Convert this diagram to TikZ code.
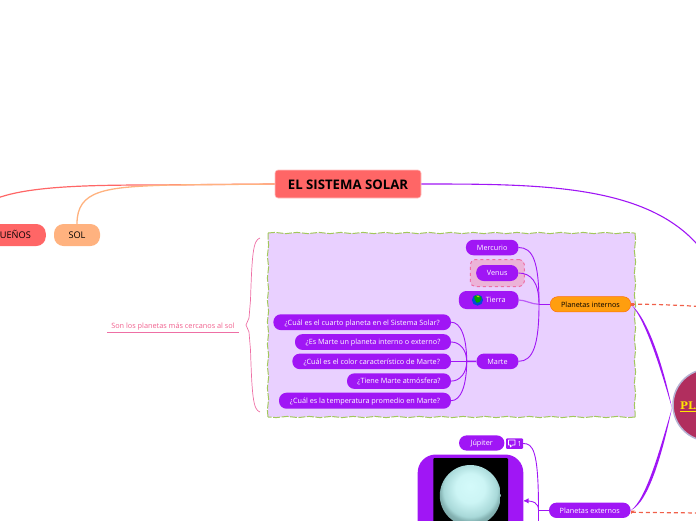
\documentclass[tikz,border=0pt]{standalone}
\usepackage{fontspec}
\setmainfont{Open Sans}
\newfontfamily\slabfont{DejaVu Serif}
\usetikzlibrary{decorations.pathmorphing}
\definecolor{rootc}{HTML}{FF6666}
\definecolor{solc}{HTML}{FFB27F}
\definecolor{purp}{HTML}{A016F5}
\definecolor{panel}{HTML}{E9D0FF}
\definecolor{orangec}{HTML}{FF9E0F}
\definecolor{pinkc}{HTML}{EE6FA5}
\definecolor{venusbg}{HTML}{ECB3D8}
\definecolor{greenb}{HTML}{A2C75C}
\definecolor{redd}{HTML}{F0604A}
\definecolor{planetc}{HTML}{B12E5E}
\definecolor{planetb}{HTML}{B6B4D4}
\pgfdeclareradialshading{uran}{\pgfpoint{0bp}{8bp}}{rgb(0bp)=(.83,.98,.98); rgb(12bp)=(.80,.96,.96); rgb(22bp)=(.66,.85,.85); rgb(25bp)=(.52,.70,.70); rgb(50bp)=(.3,.4,.4)}
\tikzset{
  pill/.style={rounded corners=7.5pt,fill=purp,text=white,font=\fontsize{7.25}{8}\selectfont,inner sep=0pt,anchor=center,text height=6.6pt,text depth=1pt},
  lnk/.style={purp,line width=.9pt},
  hublink/.style={purp,line width=1.4pt},
  big/.style={rounded corners=9.5pt,text=black,font=\fontsize{9.2}{10}\selectfont,inner sep=0pt,text height=8pt,text depth=1pt},
  greenedge/.style={greenb,line width=1pt,dash pattern=on 7pt off 1.5pt,decorate,decoration={snake,amplitude=.6pt,segment length=22pt}},
  reddash/.style={redd,line width=1.2pt,dash pattern=on 4pt off 3pt},
}
\newcommand{\pillnode}[5]{\node[pill,minimum width=#3pt,minimum height=#4pt] (#1) at (#2) {#5};}
\begin{document}
\begin{tikzpicture}[x=1pt,y=-1pt]
\useasboundingbox (0,0) rectangle (696,520);
\clip (0,0) rectangle (696,520);
% panel
\coordinate (pnw) at (268,233);
\coordinate (pne) at (635,233);
\coordinate (pse) at (635,417);
\coordinate (psw) at (268,417);
\fill[panel] (pnw) -- (pne) -- (pse) -- (psw) -- cycle;
\draw[greenedge] (pnw) -- (pne);
\draw[greenedge] (pne) -- (pse);
\draw[greenedge] (pse) -- (psw);
\draw[greenedge] (psw) -- (pnw);
% venus highlight
\node[draw=pinkc,dashed,fill=venusbg,line width=1pt,rounded corners=5pt,minimum width=54pt,minimum height=27pt,inner sep=0pt] (venusbox) at (497.3,273) {};
% root
\node[rounded corners=3pt,fill=rootc,draw=rootc!40,line width=.6pt,minimum width=146pt,minimum height=28pt,inner sep=0pt,text height=10pt,text depth=0pt,font=\bfseries\fontsize{13.2}{15}\selectfont] (root) at (348,184) {EL SISTEMA SOLAR};
\node[big,fill=solc,minimum width=46pt,minimum height=22pt] (sol) at (77,235) {SOL};
\node[big,fill=rootc,minimum height=22pt,inner xsep=15pt,anchor=east] (peq) at (46,235) {PEQUEÑOS};
% planet
\node[circle,fill=planetc,draw=planetb,line width=1.5pt,minimum size=72pt,inner sep=0pt] (planet) at (709,405) {};
\node[text=yellow!90!orange,font=\slabfont\bfseries\fontsize{10.5}{11}\selectfont,anchor=west,inner sep=0pt] (ptext) at (680,407) {\underline{PLANETAS}};
% small nodes
\pillnode{mercurio}{492.2,247.5}{52.6}{15.5}{Mercurio}
\pillnode{venus}{497.2,273}{42}{16}{Venus}
\pillnode{tierra}{488.7,300}{59.6}{18}{\hspace{14pt}Tierra}
\pillnode{marte}{497.5,361.3}{42}{15.5}{Marte}
\node[pill,fill=orangec,text=black,draw=orangec!70!red,line width=.5pt,minimum width=80.5pt,minimum height=15.3pt] (internos) at (590.5,304.3) {Planetas internos};
\node[pill,minimum width=81.6pt,minimum height=15.3pt] (externos) at (589.8,510.3) {Planetas externos};
\pillnode{q1}{362.2,322.2}{177.6}{15.8}{¿Cuál es el cuarto planeta en el Sistema Solar?}
\pillnode{q2}{373,342}{156}{15.8}{¿Es Marte un planeta interno o externo?}
\pillnode{q3}{371.7,361.4}{158.7}{15.6}{¿Cuál es el color característico de Marte?}
\pillnode{q4}{399,381.1}{104}{15.6}{¿Tiene Marte atmósfera?}
\pillnode{q5}{365,400.7}{172}{16}{¿Cuál es la temperatura promedio en Marte?}
\pillnode{jupiter}{481.7,443}{45.3}{15.2}{Júpiter}
% comment badge
\node[rounded corners=1pt,fill=purp,text=white,minimum width=17pt,minimum height=10.5pt,inner sep=0pt,font=\fontsize{7}{7}\selectfont] (badge) at (514.5,443.5) {\hspace{10pt}1};
\draw[white,line width=.6pt,line join=round] (508.5,440) -- (515,440) -- (515,445) -- (512.5,445) -- (510.5,447) -- (510.5,445) -- (508.5,445) -- cycle;
% earth icon
\fill[blue!65!cyan!85!black] (477.5,300) circle (5.6pt);
\fill[green!65!black] (474.5,296) .. controls (478,294.5) and (482,296) .. (481.5,299) .. controls (480,303) and (476,304) .. (475.5,301) .. controls (475,299) and (473.5,298) .. (474.5,296) -- cycle;
\fill[yellow!70!orange,opacity=.8] (476,295.5) .. controls (478,295) and (480,296) .. (479.5,297) .. controls (478,297.5) and (477,297) .. (476,295.5) -- cycle;
% uranus image
\node[rounded corners=18pt,fill=purp,minimum width=105.6pt,minimum height=110pt,inner sep=0pt] (uranus) at (470.5,509.5) {};
\node[fill=black,minimum width=74.6pt,minimum height=90pt,inner sep=0pt,rounded corners=1pt] (photo) at (470.7,503) {};
\shade[shading=uran] (470.3,495.5) circle (30.5pt);
% connectors inside panel
\coordinate (ji) at (539,304.3);
\draw[lnk] (mercurio.east) .. controls (533,247.5) and (539,262) .. (ji);
\draw[lnk] (venus.east) .. controls (531,273) and (539,282) .. (ji);
\draw[purp!70!white,line width=1.2pt] (tierra.east) .. controls (525,300) and (532,304.3) .. (ji);
\draw[lnk] (marte.east) .. controls (533,361.3) and (539,345) .. (ji);
\draw[hublink] (ji) -- (internos.west);
\coordinate (jm) at (466.7,361.4);
\draw[lnk] (q1.east) .. controls (461,322.2) and (466.7,338) .. (jm);
\draw[lnk] (q2.east) .. controls (460,342) and (466.7,350) .. (jm);
\draw[lnk] (q3.east) -- (jm);
\draw[lnk] (q4.east) .. controls (460,381) and (466.7,373) .. (jm);
\draw[lnk] (q5.east) .. controls (461,400.7) and (466.7,385) .. (jm);
\draw[hublink] (jm) -- (marte.west);
% root links
\draw[rootc,line width=1.2pt] (root.west) -- (150,185) .. controls (80,185) and (25,187) .. (-5,199);
\draw[solc,line width=1.3pt] (root.west) -- (170,185) .. controls (105,187) and (77,190) .. (sol.north);
\draw[purp,line width=1.1pt] (root.east) .. controls (540,184) and (650,184) .. (702,250);
% tapered links to the planet
\coordinate (apex) at (672,408);
\fill[purp] (internos.east) .. controls (648,319) and (663,365) .. (apex) .. controls (660,367) and (646,321) .. (internos.east) -- cycle;
\fill[purp] (externos.east) .. controls (649,502) and (663,451) .. (apex) .. controls (660,449) and (646,500) .. (externos.east) -- cycle;
% red dashed
\draw[reddash] (internos.east) .. controls (650,304) and (675,305) .. (700,306.5);
\draw[reddash] (externos.east) ++(1,2) -- (700,513);
\fill[redd] (631,302.8) rectangle (634,305.8);
\fill[redd] (631,510.5) -- (635,510.5) -- (631,514) -- cycle;
% externos links
\coordinate (je) at (538.5,510.3);
\coordinate (jedown) at (538.5,525);
\coordinate (arrowtip) at (524,500.8);
\draw[lnk] (badge.east) .. controls (533,443.5) and (538.5,450) .. (je);
\draw[lnk] (je) .. controls (538.5,503) and (534,500.8) .. (arrowtip);
\draw[lnk] (je) -- (jedown);
\draw[hublink] (je) -- (externos.west);
\fill[purp] (arrowtip) -- (528.5,498.3) -- (528.5,503.3) -- cycle;
% summary label and brace
\node[text=pinkc!85!red,font=\fontsize{7.3}{8}\selectfont,inner sep=0pt] (resumen) at (173,328) {\underline{Son los planetas más cercanos al sol}};
\coordinate (bt) at (260,238);
\coordinate (bb) at (260,412);
\coordinate (btip) at (246,325);
\coordinate (rulel) at (107.3,332.4);
\coordinate (ruler) at (238.7,332.4);
\draw[pinkc,line width=.7pt] (rulel) -- (ruler);
\draw[pinkc,line width=.7pt] (bt) .. controls (253,240) and (252,255) .. (250.5,300) -- (249,318) -- (btip) -- (249,332) -- (250.5,350) .. controls (252,395) and (253,410) .. (bb);
\end{tikzpicture}
\end{document}
